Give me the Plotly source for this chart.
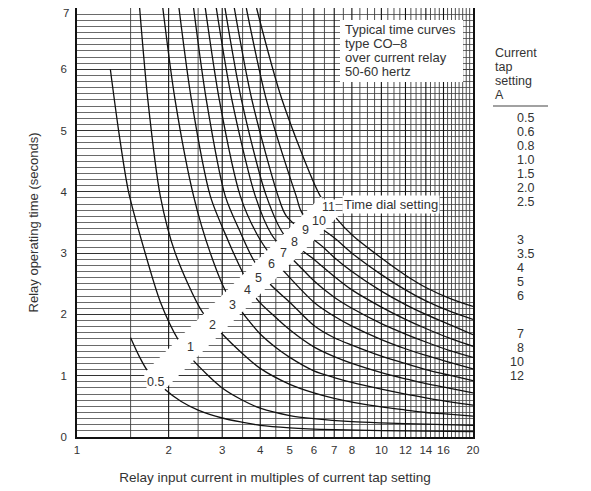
import numpy as np
import plotly.graph_objects as go

# time dial settings, one curve each
dial_settings = ["0.5", "1", "2", "3", "4", "5", "6", "7", "8", "9", "10", "11"]

# curves (x = multiple of tap setting, y = seconds)
x_05 = [1.50, 1.60, 1.70, 1.93, 2.2, 2.5, 3.0, 3.5, 4.0, 5.0, 7.0, 10.0, 14.0, 20.0]
y_05 = [1.62, 1.32, 1.09, 0.79, 0.58, 0.44, 0.31, 0.24, 0.19, 0.15, 0.12, 0.105, 0.095, 0.09]

x_1 = [1.287, 1.37, 1.477, 1.655, 1.88, 2.16, 2.41, 3.0, 3.5, 4.0, 5.0, 6.0, 8.0, 10.0, 14.0, 20.0]
y_1 = [6.0, 5.0, 4.0, 3.09, 2.2, 1.57, 1.25, 0.80, 0.60, 0.47, 0.35, 0.30, 0.25, 0.23, 0.21, 0.19]

x_2 = [1.606, 1.709, 1.878, 2.103, 2.58, 2.96, 3.5, 4.0, 5.0, 6.0, 7.0, 8.0, 10.0, 12.0, 14.0, 17.0, 20.0]
y_2 = [7.0, 5.5, 3.93, 3.0, 2.04, 1.71, 1.36, 1.12, 0.86, 0.72, 0.63, 0.57, 0.49, 0.44, 0.40, 0.37, 0.34]

x_3 = [1.914, 2.100, 2.416, 2.742, 3.11, 3.48, 4.0, 4.5, 5.0, 6.0, 7.0, 8.0, 10.0, 12.0, 14.0, 17.0, 20.0]
y_3 = [7.0, 5.5, 3.93, 3.0, 2.34, 2.04, 1.68, 1.46, 1.30, 1.08, 0.97, 0.89, 0.78, 0.70, 0.64, 0.57, 0.52]

x_4 = [2.163, 2.377, 2.742, 3.14, 3.49, 3.9, 4.5, 5.0, 6.0, 7.0, 8.0, 10.0, 12.0, 14.0, 17.0, 20.0]
y_4 = [7.0, 5.5, 3.93, 3.2, 2.7, 2.25, 1.95, 1.75, 1.47, 1.31, 1.20, 1.05, 0.95, 0.87, 0.79, 0.72]

x_5 = [2.416, 2.66, 3.07, 3.47, 3.79, 4.3, 5.0, 6.0, 7.0, 8.0, 10.0, 12.0, 14.0, 17.0, 20.0]
y_5 = [7.0, 5.5, 3.93, 3.3, 2.9, 2.5, 2.2, 1.82, 1.62, 1.50, 1.32, 1.20, 1.10, 1.0, 0.92]

x_6 = [2.639, 2.935, 3.44, 3.91, 4.4, 5.0, 6.0, 7.0, 8.0, 10.0, 12.0, 14.0, 17.0, 20.0]
y_6 = [7.0, 5.5, 3.93, 3.3, 2.92, 2.6, 2.2, 1.97, 1.81, 1.59, 1.44, 1.33, 1.21, 1.11]

x_7 = [2.868, 3.228, 3.853, 4.36, 5.0, 5.5, 6.0, 7.0, 8.0, 10.0, 12.0, 14.0, 17.0, 20.0]
y_7 = [7.0, 5.5, 3.93, 3.3, 2.95, 2.74, 2.55, 2.28, 2.10, 1.85, 1.68, 1.55, 1.40, 1.30]

x_8 = [3.063, 3.47, 4.19, 4.79, 6.0, 7.0, 8.0, 10.0, 12.0, 14.0, 17.0, 20.0]
y_8 = [7.0, 5.5, 3.93, 3.3, 2.90, 2.62, 2.40, 2.12, 1.92, 1.77, 1.60, 1.48]

x_9 = [3.287, 3.755, 4.58, 4.88, 6.5, 7.0, 8.0, 10.0, 12.0, 14.0, 17.0, 20.0]
y_9 = [7.0, 5.5, 3.93, 3.6, 3.08, 2.93, 2.70, 2.38, 2.16, 2.0, 1.82, 1.67]

x_10 = [3.600, 4.19, 5.25, 5.5, 7.0, 8.0, 10.0, 12.0, 14.0, 17.0, 20.0]
y_10 = [7.0, 5.5, 3.93, 3.65, 3.25, 3.0, 2.65, 2.40, 2.22, 2.04, 1.92]

x_11 = [3.890, 4.72, 6.30, 7.14, 8.0, 10.0, 12.0, 14.0, 17.0, 20.0]
y_11 = [7.0, 5.5, 3.93, 3.56, 3.30, 2.92, 2.64, 2.44, 2.25, 2.13]

curves_x = [x_05, x_1, x_2, x_3, x_4, x_5, x_6, x_7, x_8, x_9, x_10, x_11]
curves_y = [y_05, y_1, y_2, y_3, y_4, y_5, y_6, y_7, y_8, y_9, y_10, y_11]

# axis ticks
x_ticks = [1, 2, 3, 4, 5, 6, 7, 8, 10, 12, 14, 16, 20]
y_ticks = [0, 1, 2, 3, 4, 5, 6, 7]

# text blocks
info_lines = ["Typical time curves", "type CO\u20138", "over current relay", "50-60 hertz"]
tap_header = ["Current", "tap", "setting", "A"]
tap_groups = [["0.5", "0.6", "0.8", "1.0", "1.5", "2.0", "2.5"],
              ["3", "3.5", "4", "5", "6"],
              ["7", "8", "10", "12"]]

# where the dial numbers sit inside the white strip
label_pos = [(1.81, 0.90), (2.36, 1.47), (2.78, 1.82), (3.24, 2.16), (3.62, 2.40),
             (3.95, 2.59), (4.37, 2.82), (4.77, 3.01), (5.17, 3.19), (5.64, 3.37),
             (6.22, 3.53), (6.71, 3.76)]

FONT = "Liberation Sans, Arial, sans-serif"
TXT = "#333333"

# the page body has an 8px margin, so the figure is drawn 8px smaller
OFF = 8
W, H = 591 - OFF, 491 - OFF
ML, MT = 77 - OFF, 0
PW, PH = 396, 429
MR, MB = W - ML - PW, H - MT - PH


def px_x(px):
    # page pixel -> paper fraction
    return (px - OFF - ML) / PW


def px_y(py):
    return (MT + PH - (py - OFF)) / PH


def note(px, py, text, size=13, anchor="left"):
    return dict(x=px_x(px), y=px_y(py), xref="paper", yref="paper", xanchor=anchor,
                yanchor="middle", text=text, showarrow=False,
                font=dict(size=size, color=TXT, family=FONT))


fig = go.Figure()

# vertical rulings of the log paper: every 0.5 from 1.5 up, heavier on the labelled values
half_vals = [v for v in np.arange(1.5, 20, 0.5) if v not in x_ticks]
for vals, col, wd in [(half_vals, "#3c3c3c", 0.9), (x_ticks[1:-1], "#111111", 1.1)]:
    gx, gy = [], []
    for v in vals:
        gx += [v, v, None]
        gy += [0, 7, None]
    fig.add_trace(go.Scatter(x=gx, y=gy, mode="lines", line=dict(color=col, width=wd),
                             hoverinfo="skip", showlegend=False))

for xs, ys in zip(curves_x, curves_y):
    fig.add_trace(go.Scatter(x=xs, y=ys, mode="lines",
                             line=dict(color="#111111", width=1.3, shape="spline", smoothing=0.8),
                             hoverinfo="skip", showlegend=False))

# white diagonal strip that interrupts the curves
band_x = [1.647, 1.897, 7.29, 6.33]
band_y = [1.023, 0.726, 3.625, 3.92]
fig.add_trace(go.Scatter(x=band_x, y=band_y, fill="toself", fillcolor="white",
                         mode="none", hoverinfo="skip", showlegend=False))

annotations = []
for lab, (lx, ly) in zip(dial_settings, label_pos):
    annotations.append(dict(x=np.log10(lx), y=ly, xref="x", yref="y", text=lab,
                            showarrow=False, font=dict(size=12.5, color=TXT, family=FONT),
                            bgcolor="white", borderpad=0))

annotations.append(dict(x=np.log10(10.75), y=3.79, xref="x", yref="y", text="Time dial setting",
                        showarrow=False, font=dict(size=13, color=TXT, family=FONT),
                        bgcolor="white", borderpad=1))

# top tick label sits on the page edge, so it is placed by hand just inside
annotations.append(dict(x=0, y=1, xref="paper", yref="paper", xanchor="right", yanchor="middle",
                        xshift=-6, yshift=-5, text=str(y_ticks[-1]), showarrow=False,
                        font=dict(size=11.5, color=TXT, family=FONT)))

for i, line in enumerate(info_lines):
    annotations.append(note(343, 29 + 14 * i, line))

for line, py in zip(tap_header, [53, 67, 81, 95]):
    annotations.append(note(493, py, line, size=12.5))

group_top = [118, 240, 334]
for g, top in zip(tap_groups, group_top):
    for i, s in enumerate(g):
        n_int = len(s.split(".")[0])
        annotations.append(note(522 - 6.9 * n_int, top + 14 * i, s, size=12.5))

fig.update_layout(
    width=W, height=H,
    margin=dict(l=ML, r=MR, t=MT, b=MB, autoexpand=False),
    paper_bgcolor="white", plot_bgcolor="white",
    font=dict(family=FONT, size=11.5, color=TXT),
    annotations=annotations,
    shapes=[dict(type="rect", xref="paper", yref="paper", layer="above",
                 x0=px_x(340), x1=px_x(463), y0=px_y(82), y1=px_y(20),
                 fillcolor="white", line=dict(width=0)),
            dict(type="line", xref="paper", yref="paper",
                 x0=px_x(493), x1=px_x(548), y0=px_y(106), y1=px_y(106),
                 line=dict(color="#444444", width=1.2))],
    xaxis=dict(type="log", range=[0, np.log10(20)], tickvals=x_ticks,
               ticktext=[str(v) for v in x_ticks], ticks="", ticklabelstandoff=1,
               showgrid=False, automargin=False,
               showline=True, linecolor="#111111", linewidth=1.5, mirror=True, zeroline=False,
               title=dict(text="Relay input current in multiples of current tap setting",
                          standoff=18, font=dict(size=13.5, color=TXT))),
    yaxis=dict(range=[0, 7], tickvals=y_ticks[:-1], ticks="", ticklabelstandoff=6,
               showgrid=True, gridcolor="#333333", gridwidth=1, automargin=False,
               minor=dict(dtick=0.1, showgrid=True, gridcolor="#6a6a6a", gridwidth=1),
               showline=True, linecolor="#111111", linewidth=1.5, mirror=True, zeroline=False,
               title=dict(text="Relay operating time (seconds)", standoff=19,
                          font=dict(size=13, color=TXT))),
)

fig.write_html("out.html")
